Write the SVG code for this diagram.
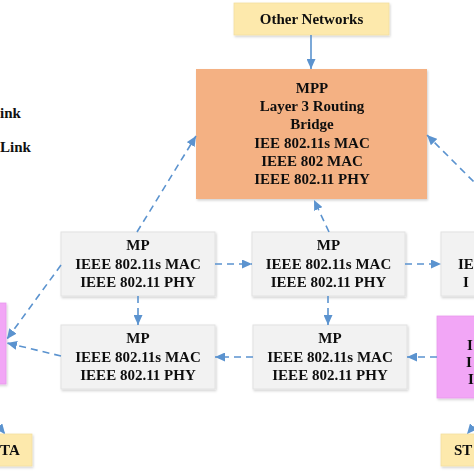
<svg xmlns="http://www.w3.org/2000/svg" width="474" height="474" viewBox="0 0 474 474">
<style>
text{font-family:"Liberation Serif","Times New Roman",serif;font-weight:bold;font-size:15px;fill:#111;}
.c{text-anchor:middle;}
.mp{fill:#F2F2F2;stroke:#E2E2E2;stroke-width:1;}
.mpp{fill:#F4B183;}
.yel{fill:#FDE9AC;stroke:#F3DFA0;stroke-width:0.8;}
.pink{fill:#F2A6F6;stroke:#E89AEE;stroke-width:0.8;}
.ln{fill:none;stroke:#5B93CF;stroke-width:1.6;}
.d{stroke-dasharray:7 5;}
</style>
<defs>
<marker id="ah" viewBox="0 0 10 9" refX="10" refY="4.5" markerWidth="10" markerHeight="9" markerUnits="userSpaceOnUse" orient="auto">
<path d="M0,0 L10,4.5 L0,9 z" fill="#5B93CF"/>
</marker>
<filter id="sh" x="-10%" y="-10%" width="130%" height="130%">
<feDropShadow dx="1" dy="1.5" stdDeviation="1" flood-color="#000" flood-opacity="0.18"/>
</filter>
</defs>
<rect width="474" height="474" fill="#fff"/>

<g id="legend">
<text x="0" y="118">ink</text>
<text x="0" y="152">Link</text>
</g>

<g id="other-networks" filter="url(#sh)">
<rect class="yel" x="234" y="3" width="155" height="32"/>
<text class="c" x="311.5" y="24">Other Networks</text>
</g>

<g id="mpp" filter="url(#sh)">
<rect class="mpp" x="196" y="69" width="231" height="130"/>
<text class="c" x="312" y="93">MPP</text>
<text class="c" x="312" y="111">Layer 3 Routing</text>
<text class="c" x="312" y="129">Bridge</text>
<text class="c" x="312" y="147.5">IEE 802.11s MAC</text>
<text class="c" x="312" y="165.5">IEEE 802 MAC</text>
<text class="c" x="312" y="183.5">IEEE 802.11 PHY</text>
</g>

<g id="mp1" filter="url(#sh)">
<rect class="mp" x="61" y="232" width="154" height="64"/>
<text class="c" x="138" y="250">MP</text>
<text class="c" x="138" y="268.5">IEEE 802.11s MAC</text>
<text class="c" x="138" y="287">IEEE 802.11 PHY</text>
</g>

<g id="mp2" filter="url(#sh)">
<rect class="mp" x="252" y="232" width="153" height="64"/>
<text class="c" x="328.5" y="250">MP</text>
<text class="c" x="328.5" y="268.5">IEEE 802.11s MAC</text>
<text class="c" x="328.5" y="287">IEEE 802.11 PHY</text>
</g>

<g id="mp3" filter="url(#sh)">
<rect class="mp" x="441" y="232" width="154" height="64"/>
<text x="458" y="268.5">IE</text>
<text x="463" y="287">I</text>
</g>

<g id="mp4" filter="url(#sh)">
<rect class="mp" x="61" y="325" width="154" height="64"/>
<text class="c" x="138" y="343">MP</text>
<text class="c" x="138" y="361.5">IEEE 802.11s MAC</text>
<text class="c" x="138" y="380">IEEE 802.11 PHY</text>
</g>

<g id="mp5" filter="url(#sh)">
<rect class="mp" x="253" y="325" width="154" height="64"/>
<text class="c" x="330" y="343">MP</text>
<text class="c" x="330" y="361.5">IEEE 802.11s MAC</text>
<text class="c" x="330" y="380">IEEE 802.11 PHY</text>
</g>

<g id="pink-left" filter="url(#sh)">
<rect class="pink" x="-80" y="303" width="86" height="81"/>
</g>

<g id="pink-right" filter="url(#sh)">
<rect class="pink" x="437" y="316" width="180" height="82"/>
<text x="467" y="350">I</text>
<text x="466" y="367">I</text>
<text x="468" y="384">I</text>
</g>

<g id="sta-left" filter="url(#sh)">
<rect class="yel" x="-60" y="434" width="92" height="32"/>
<text x="0" y="455">TA</text>
</g>

<g id="sta-right" filter="url(#sh)">
<rect class="yel" x="441" y="434" width="92" height="32"/>
<text x="454" y="455">ST</text>
</g>

<g id="connectors">
<line class="ln" x1="311" y1="35" x2="311" y2="69" marker-end="url(#ah)"/>
<line class="ln d" x1="137" y1="232" x2="196" y2="136" marker-end="url(#ah)"/>
<line class="ln d" x1="329" y1="232" x2="314" y2="200" marker-end="url(#ah)"/>
<line class="ln d" x1="482" y1="190" x2="427" y2="135" marker-end="url(#ah)"/>
<line class="ln d" x1="215" y1="264" x2="252" y2="264" marker-end="url(#ah)"/>
<line class="ln d" x1="405" y1="264" x2="441" y2="264" marker-end="url(#ah)"/>
<line class="ln d" x1="138" y1="296" x2="138" y2="325" marker-end="url(#ah)"/>
<line class="ln d" x1="328" y1="296" x2="328" y2="325" marker-end="url(#ah)"/>
<line class="ln d" x1="253" y1="357" x2="215" y2="357" marker-end="url(#ah)"/>
<line class="ln d" x1="437" y1="357" x2="407" y2="357" marker-end="url(#ah)"/>
<line class="ln d" x1="61" y1="265" x2="7" y2="339" marker-end="url(#ah)"/>
<line class="ln d" x1="61" y1="356" x2="7" y2="343" marker-end="url(#ah)"/>
<line class="ln d" x1="-30" y1="390" x2="5" y2="434" marker-end="url(#ah)"/>
<line class="ln d" x1="504" y1="390" x2="467" y2="434" marker-end="url(#ah)"/>
</g>
</svg>
